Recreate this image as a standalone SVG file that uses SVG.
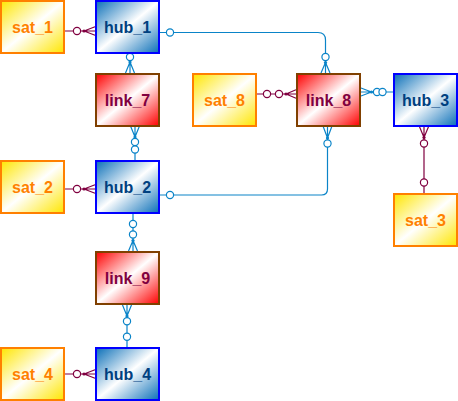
<svg xmlns="http://www.w3.org/2000/svg" width="458" height="401" viewBox="0 0 458 401">
<defs>
<linearGradient id="gSat" x1="0" y1="0" x2="1" y2="1"><stop offset="0" stop-color="#ffe600"/><stop offset="0.5" stop-color="#ffffff"/><stop offset="1" stop-color="#ffe600"/></linearGradient>
<linearGradient id="gHub" x1="0" y1="0" x2="1" y2="1"><stop offset="0" stop-color="#0a6fb8"/><stop offset="0.5" stop-color="#ffffff"/><stop offset="1" stop-color="#0a6fb8"/></linearGradient>
<linearGradient id="gLink" x1="0" y1="0" x2="1" y2="1"><stop offset="0" stop-color="#ff0000"/><stop offset="0.5" stop-color="#ffffff"/><stop offset="1" stop-color="#ff0000"/></linearGradient>
</defs>
<style>
text{font-family:"Liberation Sans",Arial,sans-serif;font-weight:bold;font-size:16px;text-anchor:middle}
.sat rect{fill:url(#gSat);stroke:#ff8000;stroke-width:2}
.sat text{fill:#ff8000}
.hub rect{fill:url(#gHub);stroke:#0000ff;stroke-width:2}
.hub text{fill:#00407f}
.link rect{fill:url(#gLink);stroke:#804000;stroke-width:2}
.link text{fill:#800040}
.b{stroke:#0a84c8;fill:none;stroke-width:1.2}
.m{stroke:#800040;fill:none;stroke-width:1.2}
.bc{stroke:#0a84c8;fill:#fff;stroke-width:1.2}
.mc{stroke:#800040;fill:#fff;stroke-width:1.2}
.bd{fill:#0a84c8}
.md{fill:#800040}
</style>
<g id="connectors">
<path class="m" d="M64,31H95M84,31L95,26.7M84,31L95,35.3"/><circle class="mc" cx="77" cy="31" r="3.6"/><circle class="md" cx="84" cy="31" r="1.6"/>
<path class="m" d="M64,189H95M84,189L95,184.7M84,189L95,193.3"/><circle class="mc" cx="77" cy="189" r="3.6"/><circle class="md" cx="84" cy="189" r="1.6"/>
<path class="m" d="M64,374H95M84,374L95,369.7M84,374L95,378.3"/><circle class="mc" cx="77" cy="374" r="3.6"/><circle class="md" cx="84" cy="374" r="1.6"/>
<path class="b" d="M130,53V73M130,62L125.5,73M130,62L134.5,73"/><circle class="bc" cx="130" cy="57" r="3.6"/><circle class="bd" cx="130" cy="62" r="1.6"/>
<path class="b" d="M135,126V160M135,137L130.5,126M135,137L139.5,126"/><circle class="bc" cx="135" cy="142" r="3.6"/><circle class="bc" cx="135" cy="149.5" r="3.6"/><circle class="bd" cx="135" cy="137" r="1.6"/>
<path class="b" d="M133,213V251M133,240.5L128.5,251M133,240.5L137.5,251"/><circle class="bc" cx="133" cy="224" r="3.6"/><circle class="bc" cx="133" cy="234.5" r="3.6"/><circle class="bd" cx="133" cy="240.5" r="1.6"/>
<path class="b" d="M127,305V347M127,316L122.5,305M127,316L131.5,305"/><circle class="bc" cx="127" cy="321.3" r="3.6"/><circle class="bc" cx="127" cy="336.7" r="3.6"/><circle class="bd" cx="127" cy="316" r="1.6"/>
<path class="b" d="M159,32.5H318Q325.5,32.5 325.5,40V73M325.5,62.5L321,73M325.5,62.5L330,73"/><circle class="bc" cx="170" cy="32.5" r="3.6"/><circle class="bc" cx="325.5" cy="57" r="3.6"/><circle class="bd" cx="325.5" cy="62.5" r="1.6"/>
<path class="b" d="M159,195H321.5Q327.5,195 327.5,189V126M327.5,138L323,126M327.5,138L332,126"/><circle class="bc" cx="170" cy="195" r="3.6"/><circle class="bc" cx="327.5" cy="143.5" r="3.6"/><circle class="bd" cx="327.5" cy="138" r="1.6"/>
<path class="m" d="M256,94H296M286,94L296,89.7M286,94L296,98.3"/><circle class="mc" cx="267" cy="94" r="3.6"/><circle class="mc" cx="279" cy="94" r="3.6"/><circle class="md" cx="286" cy="94" r="1.6"/>
<path class="b" d="M361,92H393M371.5,92L361,88M371.5,92L361,96"/><circle class="bc" cx="377" cy="92" r="3.6"/><circle class="bc" cx="382.5" cy="92" r="3.6"/><circle class="bd" cx="371.5" cy="92" r="1.6"/>
<path class="m" d="M424,126.7V193M424,137.5L419.5,126.7M424,137.5L428.5,126.7"/><circle class="mc" cx="424" cy="143.5" r="3.6"/><circle class="mc" cx="424" cy="182.5" r="3.6"/><circle class="md" cx="424" cy="137.5" r="1.6"/>
</g>
<g id="sat_1" class="sat"><rect x="1" y="1" width="63" height="52"/><text x="32.5" y="32.5">sat_1</text></g>
<g id="hub_1" class="hub"><rect x="96" y="1" width="63" height="52"/><text x="127.5" y="32.5">hub_1</text></g>
<g id="link_7" class="link"><rect x="96" y="74" width="63" height="52"/><text x="127.5" y="105.5">link_7</text></g>
<g id="sat_8" class="sat"><rect x="193" y="74" width="63" height="52"/><text x="224.5" y="105.5">sat_8</text></g>
<g id="link_8" class="link"><rect x="297" y="74" width="63" height="52"/><text x="328.5" y="105.5">link_8</text></g>
<g id="hub_3" class="hub"><rect x="394" y="74" width="63" height="52"/><text x="425.5" y="105.5">hub_3</text></g>
<g id="sat_2" class="sat"><rect x="1" y="161" width="63" height="52"/><text x="32.5" y="192.5">sat_2</text></g>
<g id="hub_2" class="hub"><rect x="96" y="161" width="63" height="52"/><text x="127.5" y="192.5">hub_2</text></g>
<g id="sat_3" class="sat"><rect x="394" y="194" width="63" height="52"/><text x="425.5" y="225.5">sat_3</text></g>
<g id="link_9" class="link"><rect x="96" y="252" width="63" height="52"/><text x="127.5" y="283.5">link_9</text></g>
<g id="sat_4" class="sat"><rect x="1" y="348" width="63" height="52"/><text x="32.5" y="379.5">sat_4</text></g>
<g id="hub_4" class="hub"><rect x="96" y="348" width="63" height="52"/><text x="127.5" y="379.5">hub_4</text></g>
</svg>
